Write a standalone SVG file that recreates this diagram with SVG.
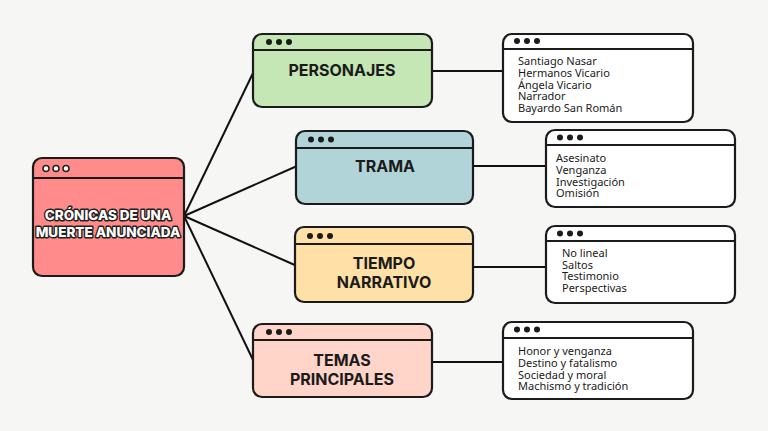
<svg xmlns="http://www.w3.org/2000/svg" width="768" height="431" viewBox="0 0 768 431">
<style>
.box{stroke:#1b1b1b;stroke-width:2.2}
.hl{stroke:#1b1b1b;stroke-width:2}
.dot{fill:#1b1b1b}
.title{font-family:Inter,"Noto Sans",sans-serif;font-weight:700;font-size:16px;fill:#1b1b1b;text-anchor:middle}
.item{font-family:"Noto Sans",Inter,sans-serif;font-size:11px;fill:#1b1b1b}
.root{font-family:Inter,"Noto Sans",sans-serif;font-weight:800;font-size:13.5px;fill:#ffffff;stroke:#222;stroke-width:2.8;paint-order:stroke;stroke-linejoin:round;text-anchor:middle}
.conn{stroke:#111;stroke-width:2;fill:none}
</style>
<rect width="768" height="431" fill="#f6f6f4"/>
<g id="connectors">
<line class="conn" x1="184" y1="216" x2="254" y2="71"/>
<line class="conn" x1="184" y1="216" x2="297" y2="166"/>
<line class="conn" x1="184" y1="216" x2="297" y2="266"/>
<line class="conn" x1="184" y1="216" x2="254" y2="362"/>
<line class="conn" x1="432" y1="71" x2="504" y2="71"/>
<line class="conn" x1="473" y1="166" x2="547" y2="166"/>
<line class="conn" x1="473" y1="267" x2="547" y2="267"/>
<line class="conn" x1="432" y1="362" x2="504" y2="362"/>
</g>
<g id="root">
<rect class="box" x="33" y="158" width="151" height="118" rx="9" fill="#ff8b8a"/>
<line class="hl" x1="33" y1="178" x2="184" y2="178"/>
<circle cx="46" cy="168.5" r="3" fill="#ffffff" stroke="#222" stroke-width="1.5"/>
<circle cx="56" cy="168.5" r="3" fill="#ffffff" stroke="#222" stroke-width="1.5"/>
<circle cx="66" cy="168.5" r="3" fill="#ffffff" stroke="#222" stroke-width="1.5"/>
<text class="root" x="108" y="220">CRÓNICAS DE UNA</text>
<text class="root" x="108" y="237">MUERTE ANUNCIADA</text>
</g>
<g id="personajes">
<rect class="box" x="253" y="34" width="179" height="73" rx="9" fill="#c5e6b5"/>
<line class="hl" x1="253" y1="50" x2="432" y2="50"/>
<circle class="dot" cx="269" cy="42" r="3"/><circle class="dot" cx="279" cy="42" r="3"/><circle class="dot" cx="289" cy="42" r="3"/>
<text class="title" x="342" y="76">PERSONAJES</text>
</g>
<g id="personajes-items">
<rect class="box" x="503" y="34" width="190" height="88" rx="9" fill="#ffffff"/>
<line class="hl" x1="503" y1="49" x2="693" y2="49"/>
<circle class="dot" cx="517" cy="41" r="3"/><circle class="dot" cx="527" cy="41" r="3"/><circle class="dot" cx="537" cy="41" r="3"/>
<text class="item" x="518" y="65">Santiago Nasar</text>
<text class="item" x="518" y="77">Hermanos Vicario</text>
<text class="item" x="518" y="89">Ángela Vicario</text>
<text class="item" x="518" y="100">Narrador</text>
<text class="item" x="518" y="112">Bayardo San Román</text>
</g>
<g id="trama">
<rect class="box" x="296" y="131" width="177" height="73" rx="9" fill="#b0d4d8"/>
<line class="hl" x1="296" y1="148" x2="473" y2="148"/>
<circle class="dot" cx="311" cy="139.5" r="3"/><circle class="dot" cx="321" cy="139.5" r="3"/><circle class="dot" cx="331" cy="139.5" r="3"/>
<text class="title" x="385" y="172">TRAMA</text>
</g>
<g id="trama-items">
<rect class="box" x="546" y="130" width="189" height="77" rx="9" fill="#ffffff"/>
<line class="hl" x1="546" y1="145" x2="735" y2="145"/>
<circle class="dot" cx="560" cy="137.5" r="3"/><circle class="dot" cx="570" cy="137.5" r="3"/><circle class="dot" cx="580" cy="137.5" r="3"/>
<text class="item" x="556" y="162">Asesinato</text>
<text class="item" x="556" y="174">Venganza</text>
<text class="item" x="556" y="186">Investigación</text>
<text class="item" x="556" y="197">Omisión</text>
</g>
<g id="tiempo">
<rect class="box" x="295" y="227" width="178" height="75" rx="9" fill="#ffe0a6"/>
<line class="hl" x1="295" y1="244" x2="473" y2="244"/>
<circle class="dot" cx="310" cy="236" r="3"/><circle class="dot" cx="320" cy="236" r="3"/><circle class="dot" cx="330" cy="236" r="3"/>
<text class="title" x="384" y="269">TIEMPO</text>
<text class="title" x="384" y="288">NARRATIVO</text>
</g>
<g id="tiempo-items">
<rect class="box" x="546" y="226" width="189" height="77" rx="9" fill="#ffffff"/>
<line class="hl" x1="546" y1="241" x2="735" y2="241"/>
<circle class="dot" cx="560" cy="233.5" r="3"/><circle class="dot" cx="570" cy="233.5" r="3"/><circle class="dot" cx="580" cy="233.5" r="3"/>
<text class="item" x="562" y="257">No lineal</text>
<text class="item" x="562" y="269">Saltos</text>
<text class="item" x="562" y="280">Testimonio</text>
<text class="item" x="562" y="292">Perspectivas</text>
</g>
<g id="temas">
<rect class="box" x="253" y="324" width="179" height="73" rx="9" fill="#ffd4c9"/>
<line class="hl" x1="253" y1="340" x2="432" y2="340"/>
<circle class="dot" cx="269" cy="332" r="3"/><circle class="dot" cx="279" cy="332" r="3"/><circle class="dot" cx="289" cy="332" r="3"/>
<text class="title" x="342" y="366">TEMAS</text>
<text class="title" x="342" y="385">PRINCIPALES</text>
</g>
<g id="temas-items">
<rect class="box" x="503" y="322" width="190" height="77" rx="9" fill="#ffffff"/>
<line class="hl" x1="503" y1="338" x2="693" y2="338"/>
<circle class="dot" cx="517" cy="329.5" r="3"/><circle class="dot" cx="527" cy="329.5" r="3"/><circle class="dot" cx="537" cy="329.5" r="3"/>
<text class="item" x="518" y="355">Honor y venganza</text>
<text class="item" x="518" y="367">Destino y fatalismo</text>
<text class="item" x="518" y="379">Sociedad y moral</text>
<text class="item" x="518" y="390">Machismo y tradición</text>
</g>
</svg>
